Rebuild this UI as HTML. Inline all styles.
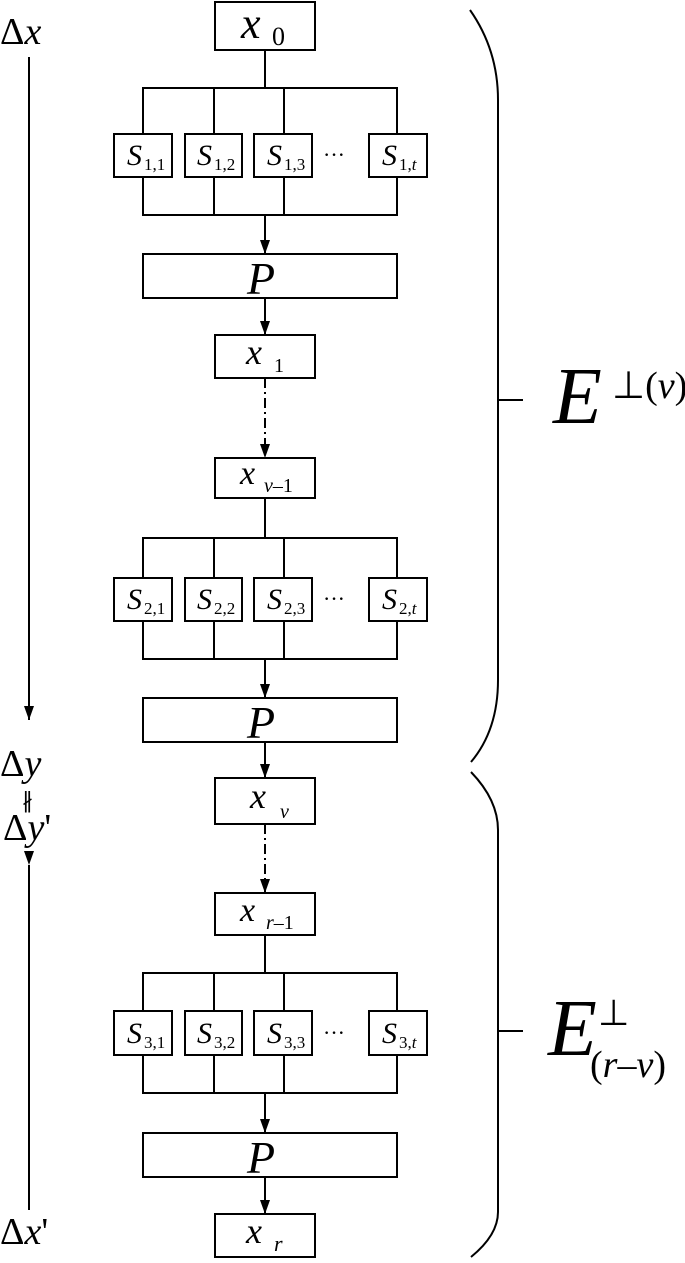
<!DOCTYPE html>
<html><head><meta charset="utf-8"><style>
html,body{margin:0;padding:0;background:#fff}
svg{display:block}
text{font-family:"Liberation Serif",serif;fill:#000}
.i{font-style:italic}
</style></head><body>
<svg width="685" height="1263" viewBox="0 0 685 1263" xmlns="http://www.w3.org/2000/svg">
<defs>
<marker id="a" markerWidth="10" markerHeight="14" refX="5" refY="14" orient="auto-start-reverse" markerUnits="userSpaceOnUse" viewBox="0 0 10 14"><path d="M0,0 L10,0 L5,14 Z" fill="#000"/></marker>
<marker id="b" markerWidth="10" markerHeight="14" refX="5" refY="14" markerUnits="userSpaceOnUse" viewBox="0 0 10 14"><path d="M0,0 L10,0 L5,14 Z" fill="#000"/></marker>
</defs>
<g stroke="#000" stroke-width="2" fill="none">
<!-- x0 -->
<rect x="215" y="2" width="100" height="48"/>
<line x1="265" y1="50" x2="265" y2="88"/>
<!-- row A -->
<polyline points="143,134 143,88 397,88 397,134"/>
<line x1="214" y1="88" x2="214" y2="134"/><line x1="284" y1="88" x2="284" y2="134"/>
<rect x="114" y="134" width="58" height="43"/><rect x="185" y="134" width="57" height="43"/><rect x="254" y="134" width="58" height="43"/><rect x="369" y="134" width="58" height="43"/>
<polyline points="143,177 143,215 397,215 397,177"/>
<line x1="214" y1="177" x2="214" y2="215"/><line x1="284" y1="177" x2="284" y2="215"/>
<line x1="265" y1="215" x2="265" y2="254" marker-end="url(#b)"/>
<rect x="143" y="254" width="254" height="44"/>
<line x1="265" y1="298" x2="265" y2="335" marker-end="url(#b)"/>
<rect x="215" y="335" width="100" height="43"/>
<line x1="265" y1="378" x2="265" y2="458" stroke-dasharray="10,4,2,4" marker-end="url(#b)"/>
<rect x="215" y="458" width="100" height="40"/>
<line x1="265" y1="498" x2="265" y2="538"/>
<!-- row B -->
<polyline points="143,578 143,538 397,538 397,578"/>
<line x1="214" y1="538" x2="214" y2="578"/><line x1="284" y1="538" x2="284" y2="578"/>
<rect x="114" y="578" width="58" height="43"/><rect x="185" y="578" width="57" height="43"/><rect x="254" y="578" width="58" height="43"/><rect x="369" y="578" width="58" height="43"/>
<polyline points="143,621 143,659 397,659 397,621"/>
<line x1="214" y1="621" x2="214" y2="659"/><line x1="284" y1="621" x2="284" y2="659"/>
<line x1="265" y1="659" x2="265" y2="698" marker-end="url(#b)"/>
<rect x="143" y="698" width="254" height="44"/>
<line x1="265" y1="742" x2="265" y2="778" marker-end="url(#b)"/>
<rect x="215" y="778" width="100" height="46"/>
<line x1="265" y1="824" x2="265" y2="893" stroke-dasharray="10,4,2,4" marker-end="url(#b)"/>
<rect x="215" y="893" width="100" height="42"/>
<line x1="265" y1="935" x2="265" y2="973"/>
<!-- row C -->
<polyline points="143,1011 143,973 397,973 397,1011"/>
<line x1="214" y1="973" x2="214" y2="1011"/><line x1="284" y1="973" x2="284" y2="1011"/>
<rect x="114" y="1011" width="58" height="44"/><rect x="185" y="1011" width="57" height="44"/><rect x="254" y="1011" width="58" height="44"/><rect x="369" y="1011" width="58" height="44"/>
<polyline points="143,1055 143,1093 397,1093 397,1055"/>
<line x1="214" y1="1055" x2="214" y2="1093"/><line x1="284" y1="1055" x2="284" y2="1093"/>
<line x1="265" y1="1093" x2="265" y2="1133" marker-end="url(#b)"/>
<rect x="143" y="1133" width="254" height="44"/>
<line x1="265" y1="1177" x2="265" y2="1214" marker-end="url(#b)"/>
<rect x="215" y="1214" width="100" height="43"/>
<!-- left arrows -->
<line x1="29" y1="57" x2="29" y2="720" marker-end="url(#b)"/>
<line x1="29" y1="1210" x2="29" y2="865" marker-end="url(#b)"/>
<!-- braces -->
<path d="M470,10 Q498,50 498,100 L498,680 Q498,730 471,762"/>
<line x1="498" y1="400" x2="523" y2="400"/>
<path d="M471,772 Q498,800 498,830 L498,1212 Q498,1235 471,1257"/>
<line x1="498" y1="1031" x2="523" y2="1031"/>
</g>
<!-- labels -->
<text x="241" y="38" font-size="44" class="i">x</text><text x="272" y="45" font-size="26">0</text>
<g font-size="30">
<text x="127" y="165" class="i">S</text><text x="144" y="170" font-size="17">1,1</text>
<text x="197" y="165" class="i">S</text><text x="214" y="170" font-size="17">1,2</text>
<text x="267" y="165" class="i">S</text><text x="284" y="170" font-size="17">1,3</text>
<text x="382" y="165" class="i">S</text><text x="399" y="170" font-size="17">1,<tspan class="i">t</tspan></text>
<text x="127" y="609" class="i">S</text><text x="144" y="614" font-size="17">2,1</text>
<text x="197" y="609" class="i">S</text><text x="214" y="614" font-size="17">2,2</text>
<text x="267" y="609" class="i">S</text><text x="284" y="614" font-size="17">2,3</text>
<text x="382" y="609" class="i">S</text><text x="399" y="614" font-size="17">2,<tspan class="i">t</tspan></text>
<text x="127" y="1043" class="i">S</text><text x="144" y="1048" font-size="17">3,1</text>
<text x="197" y="1043" class="i">S</text><text x="214" y="1048" font-size="17">3,2</text>
<text x="267" y="1043" class="i">S</text><text x="284" y="1048" font-size="17">3,3</text>
<text x="382" y="1043" class="i">S</text><text x="399" y="1048" font-size="17">3,<tspan class="i">t</tspan></text>
</g>
<text x="323" y="162" font-size="22">···</text>
<text x="323" y="606" font-size="22">···</text>
<text x="323" y="1040" font-size="22">···</text>
<text x="247" y="294" font-size="46" class="i">P</text>
<text x="247" y="738" font-size="46" class="i">P</text>
<text x="247" y="1173" font-size="46" class="i">P</text>
<text x="246" y="364" font-size="36" class="i">x</text><text x="274" y="372" font-size="20">1</text>
<text x="240" y="484" font-size="34" class="i">x</text><text x="264" y="492" font-size="20"><tspan class="i">v</tspan>–1</text>
<text x="250" y="808" font-size="36" class="i">x</text><text x="280" y="818" font-size="20" class="i">v</text>
<text x="240" y="921" font-size="34" class="i">x</text><text x="266" y="929" font-size="20"><tspan class="i">r</tspan>–1</text>
<text x="246" y="1243" font-size="36" class="i">x</text><text x="274" y="1251" font-size="22" class="i">r</text>
<text x="0" y="44" font-size="38">Δ<tspan class="i">x</tspan></text>
<text x="0" y="776" font-size="38">Δ<tspan class="i">y</tspan></text>
<text x="22" y="808" font-size="22">∦</text>
<text x="3" y="840" font-size="38">Δ<tspan class="i">y</tspan>'</text>
<text x="0" y="1244" font-size="38">Δ<tspan class="i">x</tspan>'</text>
<text x="553" y="423" font-size="80" class="i">E</text><text x="612" y="398" font-size="38">⊥(<tspan class="i">v</tspan>)</text>
<text x="548" y="1055" font-size="80" class="i">E</text><text x="598" y="1025" font-size="36">⊥</text><text x="590" y="1077" font-size="38">(<tspan class="i">r</tspan>–<tspan class="i">v</tspan>)</text>
</svg>
</body></html>
